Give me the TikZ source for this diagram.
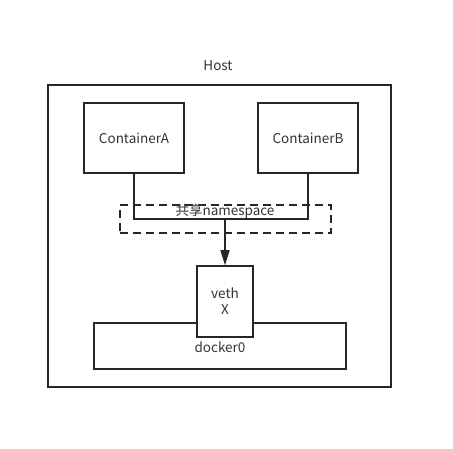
\documentclass[tikz,border=0pt]{standalone}
\usepackage{fontspec}
\setmainfont{Noto Sans CJK SC}
\usetikzlibrary{arrows.meta,positioning,calc}

\tikzset{
  box/.style={draw=black!85, line width=1.5pt, fill=white, inner sep=0pt},
  lbl/.style={font=\fontsize{13.5}{16}\selectfont, text=black!80},
  link/.style={draw=black!85, line width=1.5pt}
}

\begin{document}
\begin{tikzpicture}[x=1pt,y=-1pt]
    \useasboundingbox (0,0) rectangle (453,449);

    \node[lbl] (hostlabel) at (218,66) {Host};
    \node[box, minimum width=343pt, minimum height=302pt] (host) at (219.5,236) {};

    \node[box, lbl, minimum width=100pt, minimum height=70pt] (ca) at (134,138) {ContainerA};
    \node[box, lbl, minimum width=100pt, minimum height=70pt] (cb) at (308,138) {ContainerB};

    \node[draw=black!85, line width=1.5pt, dash pattern=on 8pt off 5pt, minimum width=211pt, minimum height=28pt] (ns) at (225.5,219) {};
    \node[lbl] (nslabel) at (225,211) {共享namespace};

    \coordinate (join) at (225,219);
    \draw[link] (ca.south) |- (join) -| (cb.south);

    \node[box, lbl, minimum width=252pt, minimum height=46pt] (docker) at (220,346) {};
    \node[lbl] (dockerlabel) at (220,347) {docker0};
    \node[box, lbl, align=center, minimum width=56pt, minimum height=71pt] (veth) at (225,301.5) {veth\\X};

    \draw[link, -{Triangle[length=15pt,width=9pt]}] (join) -- (veth.north);
\end{tikzpicture}
\end{document}
